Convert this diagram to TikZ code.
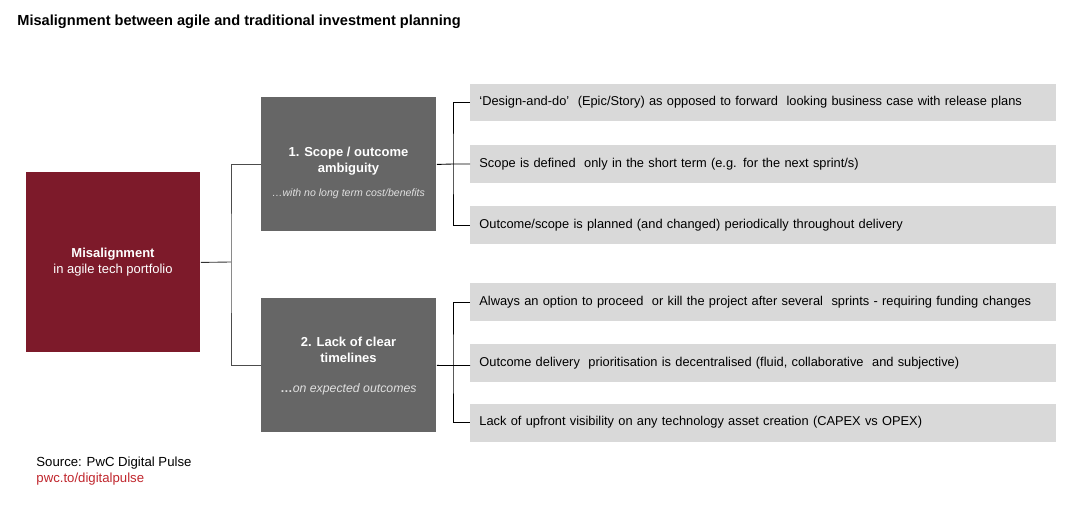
\documentclass[tikz,border=0pt]{standalone}
\usepackage{fontspec}
\setmainfont{Liberation Sans}
\usepackage{xcolor}
\definecolor{pwcred}{HTML}{7D1A2A}
\definecolor{boxgray}{HTML}{666666}
\definecolor{barfill}{HTML}{D9D9D9}
\definecolor{linkred}{HTML}{C0262D}

\begin{document}
\begin{tikzpicture}[x=0.02cm, y=-0.02cm, line width=0.5pt,
  bar/.style={fill=barfill, anchor=west, minimum height=0.76cm, text width=11.36cm,
    inner xsep=0.18cm, inner ysep=0pt, align=left, font=\fontsize{7.3}{8.4}\selectfont},
  issue/.style={fill=boxgray, anchor=north west, minimum width=3.5cm, minimum height=2.68cm},
  issuetext/.style={text=white, align=center, font=\bfseries\fontsize{7.4}{9}\selectfont},
  issuesub/.style={text=white!88!black, font=\itshape\fontsize{6}{7}\selectfont}]
  \useasboundingbox (0,0) rectangle (1075,507);
  \node[anchor=west, inner sep=0pt, font=\bfseries\fontsize{8.3}{9.6}\selectfont] (title) at (17,22) {Misalignment between agile and traditional investment planning};

  \node[fill=pwcred, anchor=north west, minimum width=3.48cm, minimum height=3.6cm] (root) at (26,172) {};
  \node[text=white, align=center, font=\fontsize{7.4}{9}\selectfont] (roottext) at (113,262) {\textbf{Misalignment}\\in agile tech portfolio};

  \node[issue] (s1) at (261,97) {};
  \node[issuetext] (s1title) at (348.5,161) {1. Scope / outcome\\ambiguity};
  \node[issuesub] (s1sub) at (348.5,194) {\dots with no long term cost/benefits};
  \node[issue] (s2) at (261,298) {};
  \node[issuetext] (s2title) at (348.5,350) {2. Lack of clear\\timelines};
  \node[issuesub, font=\itshape\fontsize{7}{8}\selectfont] (s2sub) at (348.5,389) {\textbf{\upshape\dots}on expected outcomes};

  \node[bar] (b1) at (470,102.5) {`Design-and-do'~ (Epic/Story) as opposed to forward~ looking business case with release plans};
  \node[bar] (b2) at (470,164) {Scope is defined~ only in the short term (e.g. for the next sprint/s)};
  \node[bar] (b3) at (470,225) {Outcome/scope is planned (and changed) periodically throughout delivery};
  \node[bar] (b4) at (470,302) {Always an option to proceed~ or kill the project after several~ sprints - requiring funding changes};
  \node[bar] (b5) at (470,363) {Outcome delivery~ prioritisation is decentralised (fluid, collaborative~ and subjective)};
  \node[bar] (b6) at (470,422.5) {Lack of upfront visibility on any technology asset creation (CAPEX vs OPEX)};

  \coordinate (lj) at (231,262);
  \coordinate (rj1) at (453,164);
  \coordinate (rj2) at (453,365.5);
  \draw[black!80] (root.east) -- (lj);
  \draw[black!70] (s1.west) -| (lj) |- (s2.west);
  \draw (s1.east) -- (rj1) -- (b2.west);
  \draw (b1.west) -| (rj1) |- (b3.west);
  \draw (s2.east) -- (rj2) -- (b5.west |- rj2);
  \draw (b4.west) -| (rj2) |- (b6.west);

  \node[anchor=west, inner sep=0pt, font=\fontsize{7.5}{8}\selectfont] (src) at (36,463) {Source: PwC Digital Pulse};
  \node[anchor=west, inner sep=0pt, text=linkred, font=\fontsize{7.5}{8}\selectfont] (link) at (36,479) {pwc.to/digitalpulse};
\end{tikzpicture}
\end{document}
